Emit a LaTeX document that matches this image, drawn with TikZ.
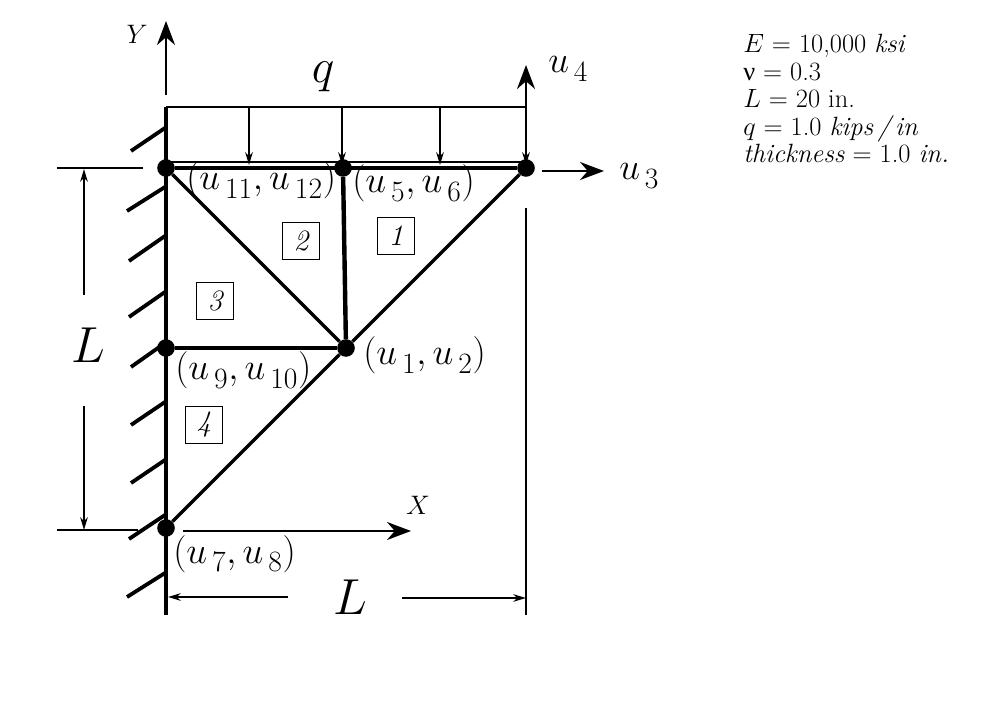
\documentclass[tikz,border=0pt]{standalone}
\usepackage{fix-cm}
\usepackage{fontspec}
\usetikzlibrary{arrows.meta}
\newfontfamily\greekfont{Liberation Serif}
\DeclareMathSizes{26.5}{26.5}{21}{14}
\DeclareMathSizes{18.8}{18.8}{13}{10}
\newcommand{\subu}[1]{u_{\raisebox{-2pt}{$\scriptstyle\,#1$}}}
\newcommand{\dispu}[2]{$(\subu{#1},\subu{#2})$}
\tikzset{
	joint/.style={circle, fill=black, inner sep=0, minimum size=0.44cm},
	element/.style={line width=0.8mm},
	elembox/.style={draw, line width=0.4mm, inner sep=0, minimum size=0.93cm, font=\fontsize{21}{24}\selectfont\itshape},
	dimline/.style={line width=0.35mm},
	bigarrow/.style={line width=0.5mm, -{Stealth[length=0.6cm, width=0.45cm]}},
	loadarrow/.style={line width=0.4mm, -{Stealth[length=0.32cm, width=0.19cm]}},
	dimarrow/.style={line width=0.35mm, -{Stealth[length=0.32cm, width=0.19cm]}},
	dof/.style={anchor=base west, inner sep=0, font=\fontsize{26.5}{30}\selectfont},
}

\begin{document}
\begin{tikzpicture}[x=0.025cm, y=-0.025cm]
	\useasboundingbox (0, 0) rectangle (993, 714);

	% joints
	\node[joint] (n11) at (166, 168) {};
	\node[joint] (n5) at (343, 168) {};
	\node[joint] (n3) at (526, 168) {};
	\node[joint] (n1) at (346, 348) {};
	\node[joint] (n9) at (166, 348) {};
	\node[joint] (n7) at (166, 528) {};

	% wall and hatching
	\coordinate (walltop) at (166, 107);
	\coordinate (wallbot) at (166, 615);
	\draw[line width=1.1mm] (walltop) -- (wallbot);
	\foreach \ya/\xb/\yb in {128/131/151, 187/127/211, 236/129/261, 292/129/317, 343/131/367, 402/131/425, 460/131/483, 515/129/539, 573/127/597}
		\draw[line width=0.95mm] (165, \ya) -- (\xb, \yb);

	% elements
	\draw[element] (n11) -- (n3);
	\draw[line width=1.1mm] (n5) -- (n1);
	\draw[element] (n11) -- (n1);
	\draw[element] (n3) -- (n1);
	\draw[element] (n9) -- (n1);
	\draw[element] (n1) -- (n7);

	% distributed load
	\coordinate (loadtl) at (166, 107);
	\coordinate (loadtr) at (526, 107);
	\coordinate (loadbl) at (166, 162);
	\coordinate (loadbr) at (526, 162);
	\draw[line width=0.55mm] (loadtl) -- (loadtr);
	\draw[line width=0.55mm] (loadbl) -- (loadbr);
	\foreach \x in {249, 342, 440, 526}
		\draw[loadarrow] (\x, 107) -- (\x, 165);

	% axes
	\coordinate (ytail) at (166, 95);
	\coordinate (ytip) at (166, 21);
	\coordinate (xtail) at (183, 531);
	\coordinate (xtip) at (411, 531);
	\coordinate (uftail) at (526, 107);
	\coordinate (uftip) at (526, 65);
	\coordinate (uttail) at (542, 171);
	\coordinate (uttip) at (604, 171);
	\draw[bigarrow] (ytail) -- (ytip);
	\draw[bigarrow] (xtail) -- (xtip);
	\draw[bigarrow] (uftail) -- (uftip);
	\draw[bigarrow] (uttail) -- (uttip);
	\node[inner sep=0, font=\fontsize{19}{22}\selectfont] (ylab) at (137, 34) {$Y$};
	\node[inner sep=0, font=\fontsize{19}{22}\selectfont] (xlab) at (418, 505) {$X$};

	% dimensions
	\draw[dimline] (57, 168) -- (143, 168);
	\draw[dimline] (57, 530) -- (138, 530);
	\draw[dimline] (526, 208) -- (526, 615);
	\node[inner sep=0, font=\fontsize{36}{40}\selectfont] (lleft) at (88, 345) {$L$};
	\node[inner sep=0, font=\fontsize{36}{40}\selectfont] (lbot) at (350, 597) {$L$};
	\draw[dimarrow] (84, 295) -- (84, 169);
	\draw[dimarrow] (84, 406) -- (84, 530);
	\draw[dimarrow] (288, 597) -- (168, 597);
	\draw[dimarrow] (402, 598) -- (526, 598);

	% labels
	\node[inner sep=0, font=\fontsize{34}{38}\selectfont] (qlab) at (323, 77) {$q$};
	\node[dof] (d1112) at (186, 190) {\dispu{11}{12}};
	\node[dof] (d56) at (352, 193) {\dispu{5}{6}};
	\node[dof] (d12) at (363, 365) {\dispu{1}{2}};
	\node[dof] (d910) at (175, 380) {\dispu{9}{10}};
	\node[dof] (d78) at (173, 563) {\dispu{7}{8}};
	\node[dof] (d4) at (548, 73) {$\subu{4}$};
	\node[dof] (d3) at (619, 180) {$\subu{3}$};

	\node[elembox] (e1) at (396, 236) {1};
	\node[elembox] (e2) at (301, 241) {2};
	\node[elembox] (e3) at (215, 301) {3};
	\node[elembox] (e4) at (204, 425) {4};

	% properties
	\node[anchor=north west, inner sep=0, align=left, font=\fontsize{18.8}{19.6}\selectfont] (props) at (743, 34) {%
		$E$ = 10,000 \textit{ksi}\\
		{\greekfont ν} = 0.3\\
		$L$ = 20 in.\\
		$q$ = 1.0 \textit{kips\,/\,in}\\
		\textit{thickness} = 1.0 \textit{in.}};
\end{tikzpicture}
\end{document}
